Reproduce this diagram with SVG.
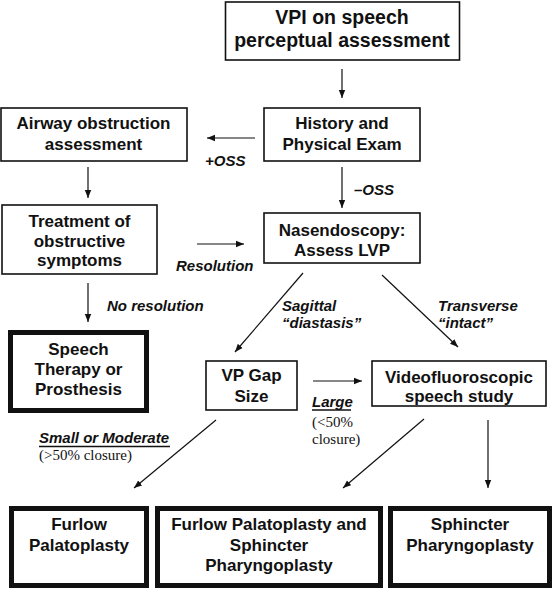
<svg xmlns="http://www.w3.org/2000/svg" width="553" height="589" viewBox="0 0 553 589">
<defs>
<style>
.box{fill:#fff;stroke:#111;stroke-width:1.6}
.thick{fill:#fff;stroke:#111;stroke-width:5}
.t{font-family:"Liberation Sans",Arial,sans-serif;font-weight:bold;font-size:17px;fill:#111;text-anchor:middle}
.big{font-size:19.5px}
.lab{font-family:"Liberation Sans",Arial,sans-serif;font-weight:bold;font-style:italic;font-size:15px;fill:#111}
.ser{font-family:"Liberation Serif","Times New Roman",serif;font-size:15px;fill:#111}
.ln{stroke:#111;stroke-width:1.2;fill:none;marker-end:url(#ah)}
.ul{stroke:#111;stroke-width:1.4}
</style>
<marker id="ah" markerUnits="userSpaceOnUse" markerWidth="10" markerHeight="8" refX="8" refY="4" orient="auto">
<path d="M0,0.8 L8,4 L0,7.2 Z" fill="#111"/>
</marker>
</defs>
<rect width="553" height="589" fill="#fff"/>

<g id="connectors">
<line class="ln" x1="342" y1="69" x2="342" y2="98"/>
<line class="ln" x1="255" y1="138" x2="207" y2="138"/>
<line class="ln" x1="342" y1="167" x2="342" y2="208"/>
<line class="ln" x1="88" y1="167" x2="88" y2="198"/>
<line class="ln" x1="197" y1="244" x2="244" y2="244"/>
<line class="ln" x1="88" y1="283" x2="88" y2="322"/>
<line class="ln" x1="303" y1="273" x2="235" y2="352"/>
<line class="ln" x1="382" y1="275" x2="458" y2="347"/>
<line class="ln" x1="313" y1="381" x2="362" y2="381"/>
<line class="ln" x1="216" y1="420" x2="134" y2="488"/>
<line class="ln" x1="424" y1="419" x2="343" y2="488"/>
<line class="ln" x1="488" y1="420" x2="488" y2="488"/>
</g>

<g id="labels">
<text class="lab" x="205" y="166">+OSS</text>
<text class="lab" x="354" y="195">–OSS</text>
<text class="lab" x="176" y="271">Resolution</text>
<text class="lab" x="107" y="311">No resolution</text>
<text class="lab" x="282" y="311">Sagittal</text>
<text class="lab" x="282" y="328">“diastasis”</text>
<text class="lab" x="438" y="311">Transverse</text>
<text class="lab" x="438" y="328">“intact”</text>
<text class="lab" x="312" y="407">Large</text>
<line class="ul" x1="312" y1="410" x2="351" y2="410"/>
<text class="ser" x="312" y="427">(&lt;50%</text>
<text class="ser" x="312" y="444">closure)</text>
<text class="lab" x="39" y="443">Small or Moderate</text>
<line class="ul" x1="39" y1="446.5" x2="170" y2="446.5"/>
<text class="ser" x="39" y="460">(&gt;50% closure)</text>
</g>

<g id="vpi">
<rect class="box" x="225.5" y="2" width="234" height="58"/>
<text class="t big" x="342" y="24">VPI on speech</text>
<text class="t big" x="342" y="47">perceptual assessment</text>
</g>

<g id="history">
<rect class="box" x="264" y="108" width="156" height="53"/>
<text class="t" x="342" y="129">History and</text>
<text class="t" x="342" y="150">Physical Exam</text>
</g>

<g id="airway">
<rect class="box" x="1" y="108" width="186" height="53"/>
<text class="t" x="93.5" y="129">Airway obstruction</text>
<text class="t" x="93.5" y="150">assessment</text>
</g>

<g id="treatment">
<rect class="box" x="2" y="205" width="155" height="69"/>
<text class="t" x="79.5" y="227">Treatment of</text>
<text class="t" x="79.5" y="247">obstructive</text>
<text class="t" x="79.5" y="266">symptoms</text>
</g>

<g id="nasendoscopy">
<rect class="box" x="264" y="213" width="156" height="50"/>
<text class="t" x="342" y="236">Nasendoscopy:</text>
<text class="t" x="342" y="256">Assess LVP</text>
</g>

<g id="speech-therapy">
<rect class="thick" x="10.5" y="332.5" width="136" height="78"/>
<text class="t" x="78.5" y="355">Speech</text>
<text class="t" x="78.5" y="375">Therapy or</text>
<text class="t" x="78.5" y="395">Prosthesis</text>
</g>

<g id="vp-gap">
<rect class="box" x="206" y="361" width="91" height="49"/>
<text class="t" x="251.5" y="381">VP Gap</text>
<text class="t" x="251.5" y="402">Size</text>
</g>

<g id="video">
<rect class="box" x="372" y="361" width="174" height="45"/>
<text class="t" x="459" y="383">Videofluoroscopic</text>
<text class="t" x="459" y="402">speech study</text>
</g>

<g id="furlow">
<rect class="thick" x="11.5" y="508.5" width="135" height="77"/>
<text class="t" x="79" y="530">Furlow</text>
<text class="t" x="79" y="551">Palatoplasty</text>
</g>

<g id="furlow-sphincter">
<rect class="thick" x="157.5" y="508.5" width="223" height="77"/>
<text class="t" x="269" y="530">Furlow Palatoplasty and</text>
<text class="t" x="269" y="551">Sphincter</text>
<text class="t" x="269" y="571">Pharyngoplasty</text>
</g>

<g id="sphincter">
<rect class="thick" x="390.5" y="508.5" width="159" height="77"/>
<text class="t" x="470" y="530">Sphincter</text>
<text class="t" x="470" y="551">Pharyngoplasty</text>
</g>
</svg>
